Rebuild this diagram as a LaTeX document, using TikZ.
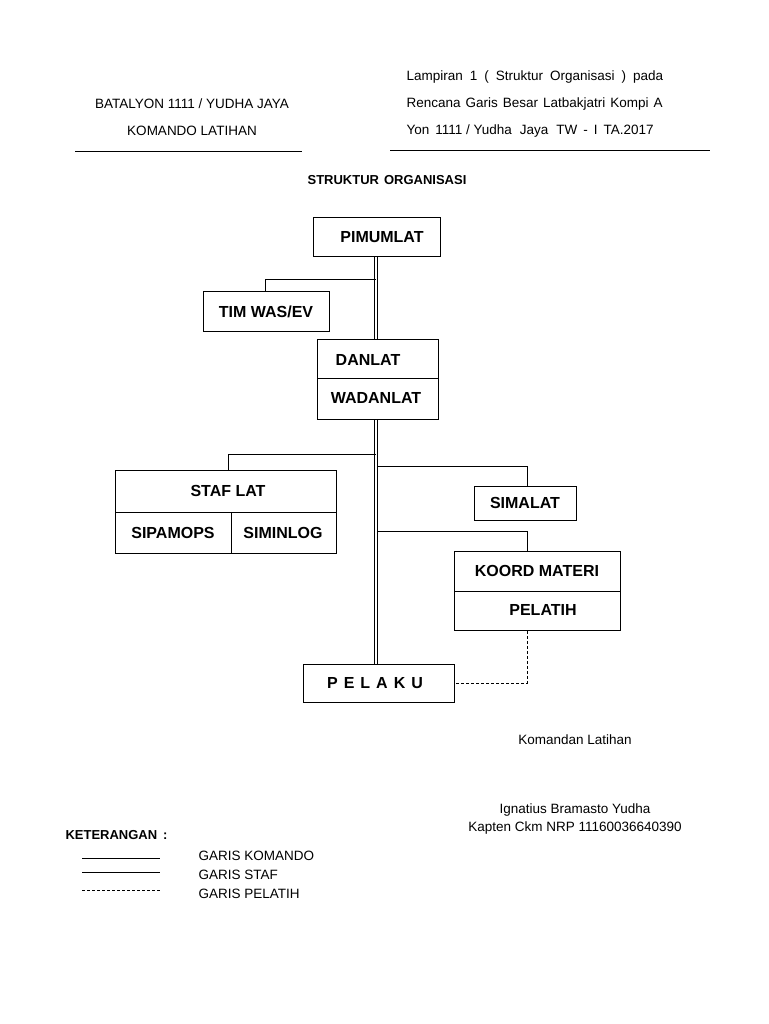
\documentclass[tikz,border=0pt]{standalone}
\usepackage{fontspec}
\setmainfont{Liberation Sans}
\begin{document}
\begin{tikzpicture}[x=1pt,y=-1pt,
  box/.style={draw,line width=0.8pt,inner sep=0pt,anchor=north west},
  lbl/.style={font=\bfseries\fontsize{16}{18}\selectfont},
  txt/.style={font=\fontsize{13.5}{15}\selectfont},
  staf/.style={line width=0.7pt},
  komando/.style={double,double distance=2pt,line width=0.7pt},
  pelatih/.style={dashed,line width=0.6pt,dash pattern=on 3pt off 2pt}]
\useasboundingbox (0,0) rectangle (768,1024);
% header
\node[txt] (h1) at (192,104) {BATALYON 1111 / YUDHA JAYA};
\node[txt] (h2) at (192,131) {KOMANDO LATIHAN};
\draw[line width=0.6pt] (75,151) -- (302,151);
\node[txt,anchor=west] (r1) at (403,77) {Lampiran\hspace{7pt}1\hspace{7pt}(\hspace{7pt}Struktur\hspace{7pt}Organisasi\hspace{7pt})\hspace{7pt}pada};
\node[txt,anchor=west] (r2) at (403,104) {Rencana\hspace{5pt}Garis\hspace{5pt}Besar\hspace{5pt}Latbakjatri\hspace{5pt}Kompi\hspace{5pt}A};
\node[txt,anchor=west] (r3) at (403,131) {Yon\hspace{6pt}1111 / Yudha\hspace{8pt}Jaya\hspace{8pt}TW\hspace{6pt}-\hspace{6pt}I\hspace{6pt}TA.2017};
\draw[line width=0.6pt] (390,150) -- (710,150);
\node[txt,font=\bfseries\fontsize{13}{15}\selectfont] (title) at (387,180) {STRUKTUR\hspace{5pt}ORGANISASI};
% boxes
\node[box,minimum width=127pt,minimum height=39pt] (pim) at (313,217) {};
\node[lbl] at (382,237) {PIMUMLAT};
\node[box,minimum width=126pt,minimum height=40pt] (tim) at (203,291) {};
\node[lbl] at (266,312) {TIM WAS/EV};
\node[box,minimum width=121pt,minimum height=80pt] (dan) at (317,339) {};
\draw[line width=0.8pt] (317,378) -- (438,378);
\node[lbl] at (368,360) {DANLAT};
\node[lbl] at (376,398) {WADANLAT};
\node[box,minimum width=221pt,minimum height=83pt] (staf) at (115,470) {};
\draw[line width=0.8pt] (115,512) -- (336,512);
\draw[line width=0.8pt] (231,512) -- (231,553);
\node[lbl] at (228,491) {STAF LAT};
\node[lbl] at (173,533) {SIPAMOPS};
\node[lbl] at (283,533) {SIMINLOG};
\node[box,minimum width=102pt,minimum height=34pt] (sim) at (474,486) {};
\node[lbl] at (525,503) {SIMALAT};
\node[box,minimum width=166pt,minimum height=79pt] (koo) at (454,551) {};
\draw[line width=0.8pt] (454,591) -- (620,591);
\node[lbl] at (537,571) {KOORD MATERI};
\node[lbl] at (543,610) {PELATIH};
\node[box,minimum width=151pt,minimum height=38pt] (pel) at (303,664) {};
\node[lbl] at (375,683) {P\hspace{6pt}E\hspace{6pt}L\hspace{6pt}A\hspace{6pt}K\hspace{6pt}U};
% connectors
\coordinate (c1) at (376,279);
\coordinate (c2) at (376,454);
\coordinate (c3) at (378,466);
\coordinate (c4) at (378,531);
\draw[komando] (pim.south -| c1) -- (dan.north -| c1);
\draw[komando] (dan.south -| c1) -- (pel.north -| c1);
\draw[staf] (c1) -- (265,279) -- (tim.north -| 265,0);
\draw[staf] (c2) -- (228,454) -- (staf.north -| 228,0);
\draw[staf] (c3) -- (527,466) -- (sim.north -| 527,0);
\draw[staf] (c4) -- (527,531) -- (koo.north -| 527,0);
\draw[pelatih] (koo.south -| 527,0) -- (527,683) -- (pel.east |- 0,683);
% footer
\node[txt] (kl) at (575,740) {Komandan Latihan};
\node[txt] (nm) at (575,810) {Ignatius Bramasto Yudha};
\node[txt] (np) at (575,828) {Kapten Ckm NRP 11160036640390};
\node[txt,font=\bfseries\fontsize{13}{15}\selectfont,anchor=west] (ket) at (62,835) {KETERANGAN\hspace{6pt}:};
\coordinate (l1a) at (82,857); \coordinate (l1b) at (160,857);
\coordinate (l2a) at (82,872); \coordinate (l2b) at (160,872);
\coordinate (l3a) at (82,890); \coordinate (l3b) at (160,890);
\draw[komando,double distance=1.8pt,line width=0.6pt] (l1a) -- (l1b);
\draw[staf] (l2a) -- (l2b);
\draw[pelatih] (l3a) -- (l3b);
\node[txt,anchor=west] (g1) at (195,856) {GARIS KOMANDO};
\node[txt,anchor=west] (g2) at (195,875) {GARIS STAF};
\node[txt,anchor=west] (g3) at (195,894) {GARIS PELATIH};
\end{tikzpicture}
\end{document}
